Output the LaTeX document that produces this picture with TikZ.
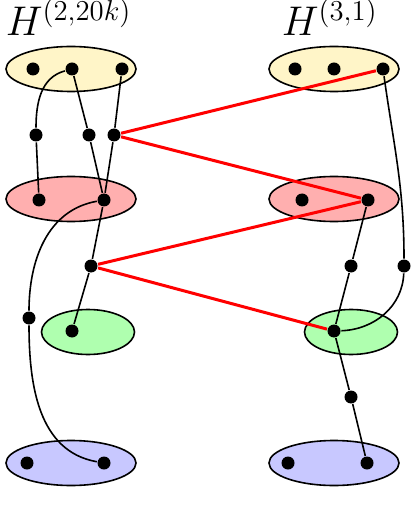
\documentclass[tikz,border=0pt]{standalone}
\usetikzlibrary{shapes.geometric}
\definecolor{setyellow}{RGB}{255,245,200}
\definecolor{setred}{RGB}{255,175,175}
\definecolor{setgreen}{RGB}{175,255,175}
\definecolor{setblue}{RGB}{200,200,255}
\begin{document}
\begin{tikzpicture}[x=.5pt,y=-.5pt,line width=.8pt,
  dot/.style={circle,fill,inner sep=0pt,minimum size=6.5pt},
  blob/.style={ellipse,draw,inner sep=0pt,minimum width=65pt,minimum height=22.5pt},
  small blob/.style={blob,minimum width=46.5pt},
  link/.style={red,line width=1.5pt}]
  \path[use as bounding box] (0,0) rectangle (415,507);
  % titles
  \node[anchor=base west,inner sep=0pt] (tl) at (5,36) {\huge $H^{(2,20k)}$};
  \node[anchor=base west,inner sep=0pt] (tr) at (281,36) {\huge $H^{(3,1)}$};
  % sets
  \node[blob,fill=setyellow] (Ly) at (71,69) {};
  \node[blob,fill=setred] (Lr) at (71,199) {};
  \node[small blob,fill=setgreen] (Lg) at (88,332) {};
  \node[blob,fill=setblue] (Lb) at (71,463) {};
  \node[blob,fill=setyellow] (Ry) at (334,69) {};
  \node[blob,fill=setred] (Rr) at (334,199) {};
  \node[small blob,fill=setgreen] (Rg) at (351,332) {};
  \node[blob,fill=setblue] (Rb) at (334,463) {};
  % left vertices
  \node[dot] (ly1) at (33,69) {};
  \node[dot] (ly2) at (72,69) {};
  \node[dot] (ly3) at (122,69) {};
  \node[dot] (lm1) at (36,135) {};
  \node[dot] (lm2) at (89,135) {};
  \node[dot] (lm3) at (114,135) {};
  \node[dot] (lr1) at (39,200) {};
  \node[dot] (lr2) at (104,200) {};
  \node[dot] (ln) at (91,266) {};
  \node[dot] (lo) at (29,318) {};
  \node[dot] (lg) at (72,331) {};
  \node[dot] (lb1) at (27,463) {};
  \node[dot] (lb2) at (104,463) {};
  % right vertices
  \node[dot] (ry1) at (295,69) {};
  \node[dot] (ry2) at (334,69) {};
  \node[dot] (ry3) at (383,69) {};
  \node[dot] (rr1) at (302,200) {};
  \node[dot] (rr2) at (368,200) {};
  \node[dot] (rn1) at (351,266) {};
  \node[dot] (rn2) at (404,266) {};
  \node[dot] (rg) at (334,331) {};
  \node[dot] (rp) at (351,397) {};
  \node[dot] (rb1) at (288,463) {};
  \node[dot] (rb2) at (367,463) {};
  % paths
  \draw (ly2) to[out=195,in=90] (lm1) (lm1)--(lr1);
  \draw (ly2)--(lm2)--(lr2) (ly3)--(lm3)--(lr2)--(ln)--(lg);
  \draw (lr2) to[out=190,in=90] (lo) to[out=-90,in=170] (lb2);
  \draw (ry3) to[out=-82,in=90] (rn2) to[out=-92,in=2] (rg);
  \draw (rr2)--(rn1)--(rg)--(rp)--(rb2);
  % cross edges
  \draw[link] (lm3)--(ry3) (lm3)--(rr2) (ln)--(rr2) (ln)--(rg);
\end{tikzpicture}
\end{document}
